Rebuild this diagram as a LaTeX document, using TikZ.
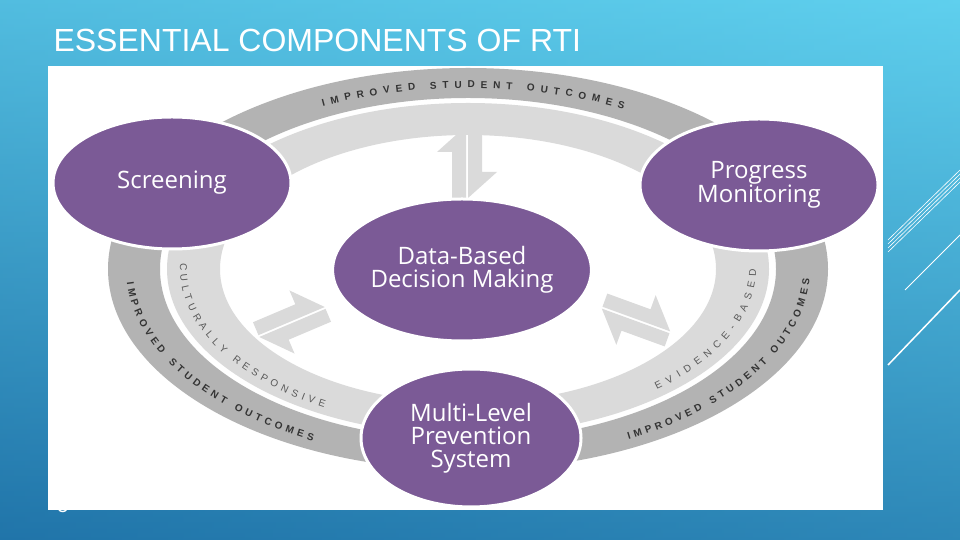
\documentclass[tikz,border=0pt]{standalone}
\usepackage{fontspec}
\setmainfont{Liberation Sans}
\newfontfamily\circfont{Open Sans}
\usetikzlibrary{decorations.text,shapes.geometric}
\definecolor{purp}{HTML}{7B5A96}
\definecolor{gband}{HTML}{B3B3B3}
\definecolor{lband}{HTML}{DADADA}
\definecolor{bgtop}{HTML}{5FD0EE}
\definecolor{bgbot}{HTML}{1868A0}
\begin{document}
\begin{tikzpicture}[x=1pt,y=1pt,
  comp/.style={ellipse, fill=purp, draw=white, line width=3pt, text=white, align=center,
     font=\circfont\fontsize{24}{23}\selectfont, inner sep=0pt},
  arctext/.style={decorate, decoration={text along path, text align=fit to path,
     text={#1}}},
  halfpair/.pic={
    \fill[lband] (-36,1) -- (36,1) -- (10,30) -- (10,15) -- (-36,15) -- cycle;
    \fill[lband] (36,-1) -- (-36,-1) -- (-10,-30) -- (-10,-15) -- (36,-15) -- cycle;
  }]
\useasboundingbox (0,0) rectangle (960,540);
\shade[top color=bgtop, bottom color=bgbot] (0,0) rectangle (960,540);
\shade[left color=bgbot!60!bgtop, right color=bgtop, opacity=0.3] (0,0) rectangle (960,540);
% decorative lines
\foreach \o in {0,4,8,12}{\draw[white, line width=0.6pt] (888,300-\o) -- (960,370-\o);}
\draw[white, line width=1.5pt] (888,175) -- (960,250);
\draw[white, line width=1pt] (905,250) -- (960,305);
% slide number (mostly hidden by the panel)
\node[text=white, font=\fontsize{20}{20}\selectfont] (num) at (63,34) {5};
\node[anchor=west, text=white, font=\fontsize{32}{32}\selectfont] (title) at (50,500) {ESSENTIAL COMPONENTS OF RTI};
% white panel
\fill[white] (48,30) rectangle (883,474);
% rings
\def\cx{468}\def\cy{271}
\fill[gband, even odd rule] (\cx,\cy) ellipse[x radius=360, y radius=201] (\cx,\cy) ellipse[x radius=308, y radius=171];
\fill[lband, even odd rule] (\cx,\cy) ellipse[x radius=301, y radius=166] (\cx,\cy) ellipse[x radius=248, y radius=134];
% arc texts
\path[arctext={|\fontsize{10}{10}\selectfont\bfseries\color{black!80}|IMPROVED STUDENT OUTCOMES}]
  (\cx,\cy) ++(116:331 and 181) arc[start angle=116, end angle=62, x radius=331, y radius=181];
\path[arctext={|\fontsize{10}{10}\selectfont\bfseries\color{black!80}|IMPROVED STUDENT OUTCOMES}]
  (\cx,\cy) ++(184:342 and 193) arc[start angle=184, end angle=243, x radius=342, y radius=193];
\path[arctext={|\fontsize{10}{10}\selectfont\bfseries\color{black!80}|IMPROVED STUDENT OUTCOMES}]
  (\cx,\cy) ++(298:342 and 193) arc[start angle=298, end angle=357, x radius=342, y radius=193];
\path[arctext={|\fontsize{10}{10}\selectfont\color{black!65}|CULTURALLY RESPONSIVE}]
  (\cx,\cy) ++(178:288 and 160) arc[start angle=178, end angle=240, x radius=288, y radius=160];
\path[arctext={|\fontsize{10}{10}\selectfont\color{black!65}|EVIDENCE-BASED}]
  (\cx,\cy) ++(311:288 and 160) arc[start angle=311, end angle=360, x radius=288, y radius=160];
% arrows
\pic[rotate=90] at (467,378) {halfpair};
\pic[rotate=203] at (292,218) {halfpair};
\pic[rotate=-20] at (636,220) {halfpair};
% components
\node[comp, minimum width=238, minimum height=132] (scr) at (172,357) {Screening};
\node[comp, minimum width=238, minimum height=132] (pm) at (759,355) {Progress\\Monitoring};
\node[comp, minimum width=256, minimum height=142] (dbdm) at (462,270) {Data-Based\\Decision Making};
\node[comp, minimum width=220, minimum height=138] (mlps) at (471,102) {Multi-Level\\Prevention\\System};
\end{tikzpicture}
\end{document}
